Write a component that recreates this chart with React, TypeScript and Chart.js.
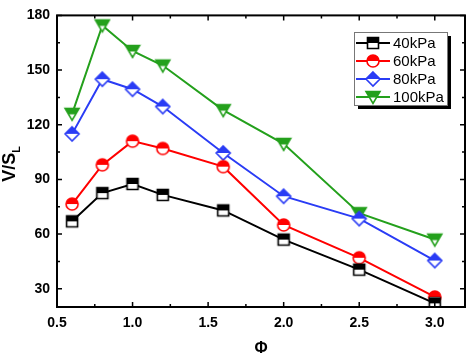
import { useEffect, useRef } from 'react';
import { Chart, registerables } from 'chart.js';

Chart.register(...registerables);

const phi = [0.6, 0.8, 1.0, 1.2, 1.6, 2.0, 2.5, 3.0];
const v40 = [67, 82.5, 87.5, 81.5, 73, 57, 40.5, 22];
const v60 = [76.5, 98, 111, 107, 97, 65, 47, 25.5];
const v80 = [115, 145, 139.5, 130, 104.5, 80.8, 68.5, 45.5];
const v100 = [126, 174.5, 160.5, 152.5, 128, 109.5, 71.5, 57];
const seriesNames = ['40kPa', '60kPa', '80kPa', '100kPa'];
const seriesColors = ['#000000', '#ff0000', '#2a3cf5', '#24a01c'];
const seriesShapes = ['square', 'circle', 'diamond', 'triangleDown'];
const xTicks = [0.5, 1.0, 1.5, 2.0, 2.5, 3.0];
const yTicks = [30, 60, 90, 120, 150, 180];
const xMinorTicks = [0.75, 1.25, 1.75, 2.25, 2.75];
const yMinorTicks = [45, 75, 105, 135, 165];

const FONT = "'Liberation Sans', Arial, sans-serif";

function makeMarker(shape: string, color: string): HTMLCanvasElement {
  const S = 18;
  const c = document.createElement('canvas');
  c.width = S;
  c.height = S;
  const ctx = c.getContext('2d')!;
  const cx = S / 2;
  const cy = S / 2;
  const path = () => {
    ctx.beginPath();
    if (shape === 'square') {
      ctx.rect(cx - 5.5, cy - 5.5, 11, 11);
    } else if (shape === 'circle') {
      ctx.arc(cx, cy, 6, 0, Math.PI * 2);
    } else if (shape === 'diamond') {
      ctx.moveTo(cx, cy - 7);
      ctx.lineTo(cx + 7, cy);
      ctx.lineTo(cx, cy + 7);
      ctx.lineTo(cx - 7, cy);
      ctx.closePath();
    } else {
      ctx.moveTo(cx - 7, cy - 5.5);
      ctx.lineTo(cx + 7, cy - 5.5);
      ctx.lineTo(cx, cy + 6.5);
      ctx.closePath();
    }
  };
  path();
  ctx.fillStyle = '#ffffff';
  ctx.fill();
  ctx.save();
  ctx.beginPath();
  const half = shape === 'triangleDown' ? cy - 5.5 + 6 : cy;
  ctx.rect(0, 0, S, half);
  ctx.clip();
  path();
  ctx.fillStyle = color;
  ctx.fill();
  ctx.restore();
  path();
  ctx.lineWidth = 1.6;
  ctx.strokeStyle = color;
  ctx.stroke();
  return c;
}

export default function App() {
  const ref = useRef<HTMLCanvasElement>(null);

  useEffect(() => {
    const markers = seriesShapes.map((s, i) => makeMarker(s, seriesColors[i]));
    const values = [v40, v60, v80, v100];

    const framePlugin = {
      id: 'framePlugin',
      afterDraw(chart: any) {
        const ctx = chart.ctx as CanvasRenderingContext2D;
        const a = chart.chartArea;
        const xs = chart.scales.x;
        const ys = chart.scales.y;
        ctx.save();
        ctx.strokeStyle = '#000';
        ctx.lineWidth = 2;
        ctx.strokeRect(a.left, a.top, a.right - a.left, a.bottom - a.top);
        ctx.lineWidth = 1.5;
        ctx.beginPath();
        const tick = (v: number, len: number, axis: 'x' | 'y') => {
          if (axis === 'x') {
            const px = xs.getPixelForValue(v);
            ctx.moveTo(px, a.bottom);
            ctx.lineTo(px, a.bottom - len);
            ctx.moveTo(px, a.top);
            ctx.lineTo(px, a.top + len);
          } else {
            const py = ys.getPixelForValue(v);
            ctx.moveTo(a.left, py);
            ctx.lineTo(a.left + len, py);
            ctx.moveTo(a.right, py);
            ctx.lineTo(a.right - len, py);
          }
        };
        xTicks.forEach((v) => tick(v, 5, 'x'));
        xMinorTicks.forEach((v) => tick(v, 3, 'x'));
        yTicks.forEach((v) => tick(v, 5, 'y'));
        yMinorTicks.forEach((v) => tick(v, 3, 'y'));
        ctx.stroke();

        // axis titles
        ctx.fillStyle = '#000';
        ctx.font = `bold 16px ${FONT}`;
        ctx.textAlign = 'center';
        ctx.textBaseline = 'alphabetic';
        ctx.fillText('Φ', (a.left + a.right) / 2, 353);

        ctx.save();
        ctx.translate(15, 164);
        ctx.rotate(-Math.PI / 2);
        ctx.textAlign = 'left';
        ctx.font = `bold 18px ${FONT}`;
        const main = 'V/S';
        const mw = ctx.measureText(main).width;
        ctx.font = `bold 11px ${FONT}`;
        const sw = ctx.measureText('L').width;
        const total = mw + sw;
        ctx.font = `bold 18px ${FONT}`;
        ctx.fillText(main, -total / 2, 0);
        ctx.font = `bold 11px ${FONT}`;
        ctx.fillText('L', -total / 2 + mw, 5);
        ctx.restore();

        // legend
        const bx = 354, by = 32, bw = 93, bh = 73;
        ctx.fillStyle = '#000';
        ctx.fillRect(bx + 4, by + 4, bw, bh);
        ctx.fillStyle = '#fff';
        ctx.fillRect(bx, by, bw, bh);
        ctx.lineWidth = 1;
        ctx.strokeStyle = '#777';
        ctx.strokeRect(bx + 0.5, by + 0.5, bw, bh);
        const rows = [43, 61, 79, 97];
        seriesNames.forEach((name, i) => {
          const y = rows[i];
          ctx.strokeStyle = seriesColors[i];
          ctx.lineWidth = 2;
          ctx.beginPath();
          ctx.moveTo(356, y);
          ctx.lineTo(390, y);
          ctx.stroke();
          const m = markers[i];
          ctx.drawImage(m, 373 - m.width / 2, y - m.height / 2);
          ctx.fillStyle = '#000';
          ctx.font = `15px ${FONT}`;
          ctx.textAlign = 'left';
          ctx.textBaseline = 'middle';
          ctx.fillText(name, 393, y + 1);
        });
        ctx.restore();
      },
    };

    const chart = new Chart(ref.current!, {
      type: 'line',
      data: {
        datasets: seriesNames.map((name, i) => ({
          label: name,
          data: phi.map((x, j) => ({ x, y: values[i][j] })),
          borderColor: seriesColors[i],
          backgroundColor: seriesColors[i],
          borderWidth: 2,
          tension: 0,
          pointStyle: markers[i] as any,
          pointRadius: 6,
        })),
      },
      options: {
        responsive: false,
        animation: false,
        events: [],
        layout: { padding: { left: 0, right: 9, top: 5, bottom: 0 } },
        plugins: { legend: { display: false }, tooltip: { enabled: false } },
        scales: {
          x: {
            type: 'linear',
            min: 0.5,
            max: 3.2,
            grid: { display: false, drawTicks: false },
            border: { display: false },
            afterBuildTicks: (s: any) => {
              s.ticks = xTicks.map((v) => ({ value: v }));
            },
            afterFit: (s: any) => {
              s.height = 47;
            },
            ticks: {
              color: '#000',
              font: { family: FONT, size: 14, weight: 'bold' },
              padding: 8,
              maxRotation: 0,
              callback: (v: any) => Number(v).toFixed(1),
            },
          },
          y: {
            type: 'linear',
            min: 20,
            max: 180,
            grid: { display: false, drawTicks: false },
            border: { display: false },
            afterBuildTicks: (s: any) => {
              s.ticks = yTicks.map((v) => ({ value: v }));
            },
            afterFit: (s: any) => {
              s.width = 57;
            },
            ticks: {
              color: '#000',
              font: { family: FONT, size: 14, weight: 'bold' },
              padding: 7,
              callback: (v: any) => String(v),
            },
          },
        },
      },
      plugins: [framePlugin],
    });
    return () => chart.destroy();
  }, []);

  return (
    <div style={{ position: 'fixed', left: 0, top: 0, width: 474, height: 354, background: '#fff' }}>
      <canvas ref={ref} width={474} height={354} />
    </div>
  );
}
